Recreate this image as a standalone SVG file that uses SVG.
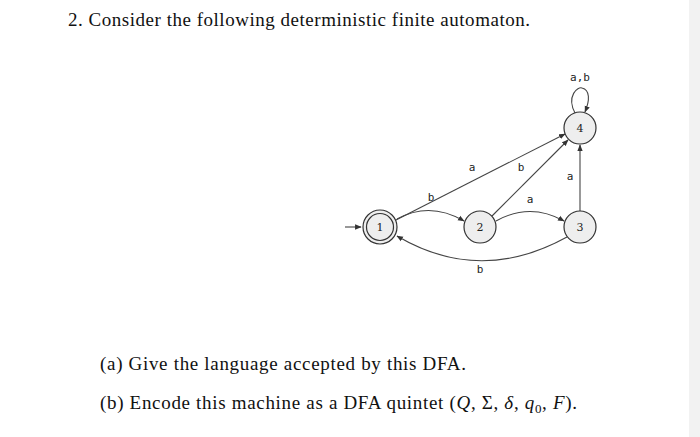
<svg xmlns="http://www.w3.org/2000/svg" width="700" height="437" viewBox="0 0 700 437">
<style>
.t{font-family:"Liberation Serif",serif;fill:#111}
.n circle{fill:#eee;stroke:#333;stroke-width:1.2}
.n text{font-family:"DejaVu Serif",serif;font-size:11px;text-anchor:middle;fill:#222}
.e path{fill:none;stroke:#444;stroke-width:1.1;marker-end:url(#ah)}
.l{font-family:"DejaVu Sans Mono",monospace;font-size:11px;text-anchor:middle;fill:#222}
</style>
<defs><marker id="ah" viewBox="0 0 10 10" refX="9" refY="5" markerWidth="6" markerHeight="6" orient="auto"><path d="M0,1L10,5L0,9z" fill="#333"/></marker></defs>
<rect width="700" height="437" fill="#fff"/>
<rect x="689" y="0" width="11" height="437" fill="#f2f2f2"/>
<text class="t" x="68" y="26" font-size="19" textLength="462" lengthAdjust="spacing">2. Consider the following deterministic finite automaton.</text>
<g class="e">
<path d="M345,227H361"/>
<path d="M396,220L565,134"/>
<path d="M492,216L568,140"/>
<path d="M397,219Q430,201 464,221"/>
<path d="M496,221Q530,202 564,221"/>
<path d="M580,211V145"/>
<path d="M567,237Q480,285 397,236"/>
<path d="M575,113C566,96 578,86 582,88C590,90 590,100 585,112"/>
</g>
<g id="n1" class="n"><circle cx="380" cy="227" r="17"/><circle cx="380" cy="227" r="13.5"/><text x="380" y="231">1</text></g>
<g id="n2" class="n"><circle cx="480" cy="227" r="16"/><text x="480" y="231">2</text></g>
<g id="n3" class="n"><circle cx="580" cy="227" r="16"/><text x="580" y="231">3</text></g>
<g id="n4" class="n"><circle cx="580" cy="128" r="16"/><text x="580" y="132">4</text></g>
<text class="l" x="472" y="171">a</text>
<text class="l" x="521" y="171">b</text>
<text class="l" x="431" y="201">b</text>
<text class="l" x="530" y="203">a</text>
<text class="l" x="570" y="180">a</text>
<text class="l" x="480" y="273">b</text>
<text class="l" x="580" y="81">a,b</text>
<text class="t" x="100" y="370" font-size="19" textLength="366" lengthAdjust="spacing">(a) Give the language accepted by this DFA.</text>
<text class="t" x="100" y="409" font-size="19" textLength="477" lengthAdjust="spacing">(b) Encode this machine as a DFA quintet (<tspan font-style="italic">Q</tspan>, Σ, <tspan font-style="italic">δ</tspan>, <tspan font-style="italic">q</tspan><tspan font-size="13" dy="4">0</tspan><tspan dy="-4">, </tspan><tspan font-style="italic">F</tspan>).</text>
</svg>
